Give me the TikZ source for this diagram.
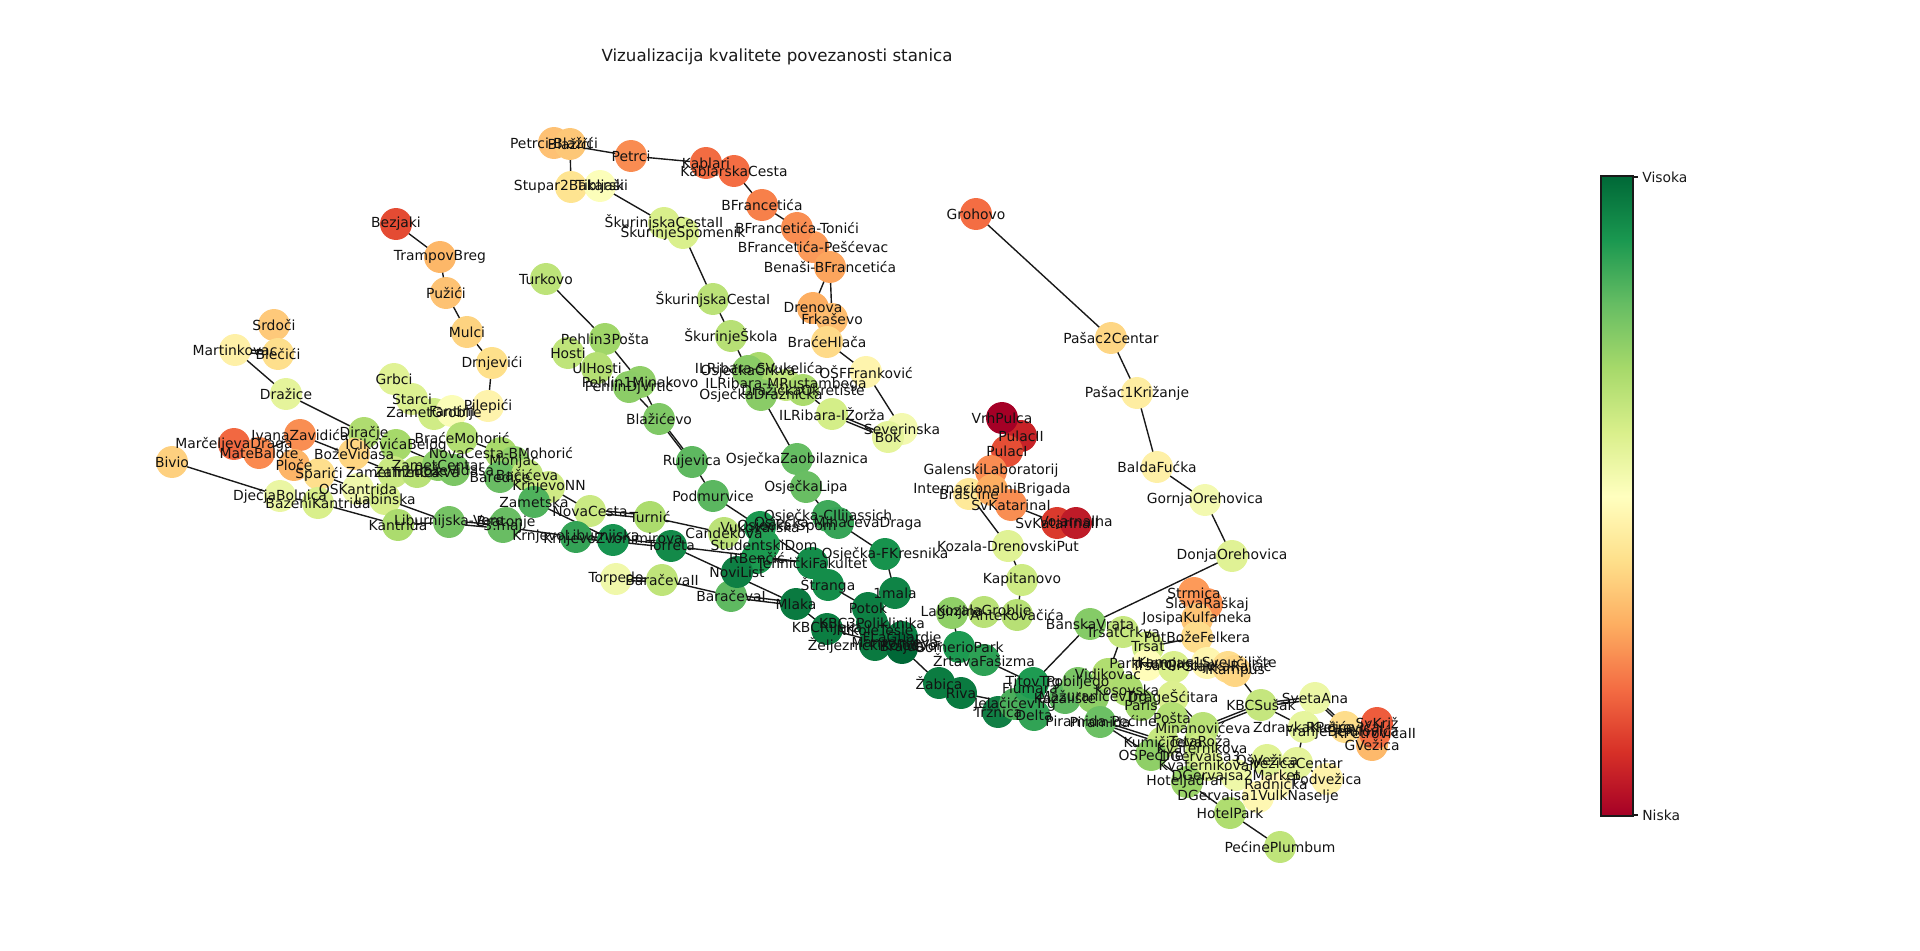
\documentclass[tikz,border=0pt]{standalone}
\usepackage{fontspec}
\setmainfont{DejaVu Sans}
\pgfdeclarelayer{edgelayer}
\pgfdeclarelayer{labellayer}
\pgfsetlayers{edgelayer,main,labellayer}
\tikzset{
  stop/.style={circle,minimum size=23pt,inner sep=0pt,draw=none},
  stoplabel/.style={inner sep=0pt,font=\fontsize{10}{12}\selectfont,text=black!93},
  edge/.style={draw=black!90,line width=1pt},
  ticklabel/.style={inner sep=0pt,anchor=west,font=\fontsize{10}{12}\selectfont,text=black!90},
  titletext/.style={inner sep=0pt,font=\fontsize{12}{14}\selectfont,text=black!90}
}
\newcommand{\stn}[5]{\definecolor{nc}{HTML}{#4}\node[stop,fill=nc] (#1) at (#2,#3) {};
 \begin{pgfonlayer}{labellayer}\node[stoplabel] (l#1) at (#2,#3) {#5};\end{pgfonlayer}}
\newcommand{\lab}[4]{\begin{pgfonlayer}{labellayer}\node[stoplabel] (#1) at (#2,#3) {#4};\end{pgfonlayer}}
\newcommand{\ed}[2]{\draw[edge] (#1.center) -- (#2.center);}
\newcommand{\edd}[2]{\draw[edge] ([yshift=1.1pt]#1.center) -- ([yshift=1.1pt]#2.center);\draw[edge] ([yshift=-1.1pt]#1.center) -- ([yshift=-1.1pt]#2.center);}
\newcommand{\cbseg}[4]{\definecolor{ca}{HTML}{#3}\definecolor{cb}{HTML}{#4}\shade[top color=ca,bottom color=cb,draw=none] (1601,#1) rectangle (1633,#2);}
\begin{document}
\begin{tikzpicture}[x=0.72pt,y=-0.72pt]
\useasboundingbox (0,0) rectangle (1920,951);
\node[titletext] (title) at (777,57) {Vizualizacija kvalitete povezanosti stanica};
% left
\stn{srdoci}{274}{325}{FEC97A}{Srdoči}
\stn{blecici}{278}{354}{FEDF8C}{Blečići}
\stn{martinkovac}{235}{350}{FEF0A7}{Martinkovac}
\stn{drazice}{286}{394}{E5F49B}{Dražice}
\stn{diracje}{364}{433}{AFDC70}{Diračje}
\stn{icikovica}{396}{445}{A6D96A}{ICikovićaBelog}
\stn{marceljeva}{234}{444}{F26841}{MarčeljevaDraga}
\stn{mate}{259}{453}{FA8A50}{MateBalote}
\stn{ivana}{300}{435}{F98E52}{IvanaZavidića}
\stn{bivio}{172}{462}{FED07F}{Bivio}
\stn{ploce}{294}{465}{FDB567}{Ploče}
\stn{bozev}{354}{454}{FED582}{BožeVidasa}
\stn{sparici}{319}{474}{FEDF8D}{Sparići}
\stn{djecja}{280}{496}{EAF6A3}{DječjaBolnica}
\stn{bazeni}{318}{503}{D9EF8B}{BazeniKantrida}
\stn{oskantrida}{358}{489}{EFF8AC}{OSKantrida}
\stn{labinska}{385}{499}{D7EF8B}{Labinska}
\stn{kantrida}{398}{525}{ACDC6E}{Kantrida}
\stn{liburnijska}{449}{522}{76C365}{Liburnijska-Vere}
\stn{bratonje}{506}{523}{6ABD64}{Bratonje}
\stn{svibnja}{503}{527}{69BD63}{3.maj}
\stn{grbci}{394}{379}{E0F295}{Grbci}
\stn{starci}{412}{399}{DDF191}{Starci}
\stn{zgroblje}{434}{414}{D0EC86}{ZametGroblje}
\stn{fantini}{452}{411}{FBFDB8}{Fantini}
\stn{pilepici}{488}{406}{FEF3AC}{Pilepići}
\stn{drnjevici}{492}{363}{FEE08B}{Drnjevići}
\stn{mulci}{467}{332}{FDD380}{Mulci}
\stn{puzici}{446}{293}{FDC273}{Pužići}
\stn{trampov}{440}{257}{FDB768}{TrampovBreg}
\stn{bezjaki}{396}{224}{E44B33}{Bezjaki}
\stn{ztrznica}{393}{472}{CBE983}{ZametTržnica}
\stn{zcrkva}{417}{472}{B9E177}{ZametCrkva}
\stn{braca}{462}{438}{B3DF72}{BraćeMohorić}
\stn{zcentar}{438}{465}{8ACC66}{ZametCentar}
\stn{bozeb}{454}{470}{7CC665}{BožeVidasa}
\stn{ncb}{501}{453}{A9DA6B}{NovaCesta-BMohorić}
\stn{monjac}{514}{462}{8FCF67}{Monjac}
\stn{baredice}{500}{477}{6ABD64}{Baredice}
\stn{bacic}{527}{475}{BFE47A}{Bačićeva}
\stn{krnjevonn}{549}{487}{CFEB85}{KrnjevoNN}
\stn{zametska}{534}{502}{4FB25C}{Zametska}
\stn{novacesta}{590}{511}{CAE983}{NovaCesta}
\stn{turnic}{650}{517}{ACDC6D}{Turnić}
\stn{krnlib}{576}{537}{34A356}{KrnjevoLiburnijska}
\stn{krnzvo}{613}{540}{179350}{KrnjevoZvonimirova}
\stn{torreta}{671}{546}{138A49}{Torreta}
\stn{torpedo}{616}{579}{F0F8AA}{Torpedo}
\stn{baracii}{662}{580}{BFE47A}{BaračevaII}
\stn{baraci}{731}{596}{5FB961}{BaračevaI}
% north
\stn{pblazici}{554}{143}{FEC174}{Petrci-Blažići}
\stn{blazici}{570}{144}{FDC777}{Blažići}
\stn{stupar}{571}{187}{FEE491}{Stupar2Bakarski}
\stn{tibljasi}{600}{186}{FCFEBA}{Tibljaši}
\stn{petrci}{631}{156}{F98C52}{Petrci}
\stn{kablari}{706}{163}{F26C42}{Kablari}
\stn{kablarska}{734}{171}{F46D43}{KablarskaCesta}
\stn{bfr}{762}{205}{F7804A}{BFrancetića}
\stn{bfpes}{813}{247}{FB9A59}{BFrancetića-Pešćevac}
\stn{bfton}{797}{228}{F98E52}{BFrancetića-Tonići}
\stn{benasi}{830}{267}{FCA55D}{Benaši-BFrancetića}
\stn{drenova}{813}{308}{FDAE61}{Drenova}
\stn{frkasevo}{832}{319}{FDBD6F}{Frkaševo}
\stn{hlaca}{827}{342}{FEDA88}{BraćeHlača}
\stn{osf}{866}{372}{FEF4AD}{OŠFFranković}
\stn{skii}{664}{223}{D9EF8B}{ŠkurinjskaCestaII}
\stn{skspom}{683}{233}{DAF08D}{ŠkurinjeSpomenik}
\stn{ski}{713}{299}{BBE278}{ŠkurinjskaCestaI}
\stn{skskola}{731}{336}{B7E075}{ŠkurinjeŠkola}
\stn{turkovo}{546}{279}{BDE379}{Turkovo}
\stn{hosti}{568}{353}{BFE47A}{Hosti}
\stn{pehlin3}{605}{339}{A0D669}{Pehlin3Pošta}
\stn{ulhosti}{597}{368}{B5DF73}{UlHosti}
\stn{pehlin1}{640}{382}{90CF68}{Pehlin1Minakovo}
\stn{pehlindj}{629}{387}{8CCD67}{PehlinDjVrtić}
\stn{ilsv}{759}{368}{A9DA6C}{ILRibara-SVukelića}
\stn{oscrkva}{748}{371}{8ACC66}{OsječkaCrkva}
\stn{ilmr}{786}{385}{C4E67E}{ILRibara-MRustambega}
\stn{okret}{803}{390}{ABDB6D}{DražičkaOkretište}
\stn{osdraz}{761}{395}{8ACC67}{OsječkaDražnička}
\stn{ilzor}{832}{414}{D4EE88}{ILRibara-IŽorža}
\stn{severinska}{902}{429}{F3F9B0}{Severinska}
\stn{bok}{888}{437}{E5F49B}{Bok}
\stn{oszao}{797}{459}{66BD63}{OsječkaZaobilaznica}
\stn{oslipa}{806}{487}{69BE63}{OsječkaLipa}
\stn{blazicevo}{659}{419}{7FC866}{Blažićevo}
\stn{rujevica}{692}{462}{5EB860}{Rujevica}
\stn{podmurvice}{713}{496}{5BB760}{Podmurvice}
\stn{oscil}{828}{516}{3FA95A}{Osječka-CIlijassich}
\stn{osmih}{838}{523}{36A457}{Osječka-MihačevaDraga}
\stn{oskres}{885}{554}{17934D}{Osječka-FKresnika}
\stn{candek}{724}{533}{BCE278}{Candekova}
\stn{osspom}{760}{527}{1A9850}{Vukovarska}
\lab{lospom}{787}{526}{Osječka-Spom}
\stn{studdom}{764}{545}{239F54}{StudentskiDom}
\stn{rbencic}{757}{558}{1B9A50}{RBenčić}
\stn{tehfak}{812}{563}{148D4A}{TehničkiFakultet}
\stn{noviist}{737}{572}{0E8044}{NoviList}
\stn{stranga}{828}{585}{148D4A}{Štranga}
\stn{mala}{895}{593}{0F8446}{1mala}
\stn{mlaka}{796}{604}{0A7A40}{Mlaka}
\stn{potok}{868}{608}{0D7F43}{Potok}
\stn{poliklin}{872}{623}{0E8144}{KBC3Poliklinika}
\stn{kbcr}{827}{629}{0C7E42}{KBCRijeka}
\stn{nikole}{875}{630}{0E8044}{NikoleTesle}
\stn{zeljez}{875}{645}{0A7A40}{ŽeljezničkiKolodvor}
\lab{lmanz}{895}{644}{Manzonijeva}
\stn{flag}{902}{637}{0A7F43}{FLaGuardie}
\stn{brajda}{902}{648}{006837}{Brajda}
\stn{zabica}{939}{683}{0B7C41}{Žabica}
\stn{riva}{961}{693}{0A7A40}{Riva}
\stn{laginjina}{952}{613}{8FCF67}{Laginjina}
\stn{kozgrob}{984}{612}{B9E177}{KozalaGroblje}
\stn{ante}{1017}{615}{B7E075}{AnteKovačića}
\stn{kapitanovo}{1022}{580}{CDEB84}{Kapitanovo}
\stn{kozdren}{1008}{546}{E0F295}{Kozala-DrenovskiPut}
\stn{gomerio}{959}{647}{1D9A51}{GomerioPark}
\stn{zrtava}{984}{660}{2DA155}{ŽrtavaFašizma}
\stn{trznica}{998}{712}{117F45}{Tržnica}
\stn{jelacic}{1015}{704}{4BAF5B}{JelačićevTrg}
\stn{delta}{1034}{715}{31A355}{Delta}
\stn{fiumara}{1030}{688}{2DA155}{Fiumara}
\stn{titov}{1033}{683}{1E9B52}{TitovTrg}
\stn{kazaliste}{1065}{698}{5DB760}{Kazalište}
\stn{pobijego}{1078}{683}{7AC565}{Pobiljego}
\stn{mazur}{1093}{697}{8FCF67}{MažuranićevTrg}
\stn{vidikovac}{1108}{674}{B0DD70}{Vidikovac}
\stn{kosovska}{1127}{690}{ACDC6E}{Kosovska}
\stn{paris}{1141}{705}{A0D669}{Paris}
\stn{piramida}{1100}{722}{6CC064}{Piramida}
\lab{lpec}{1101}{721}{Piramida-Pećine}
\stn{banska}{1090}{624}{85CB67}{BanskaVrata}
\stn{trsatc}{1123}{632}{C6E77F}{TrsatCrkva}
\stn{trsat}{1148}{647}{D3ED87}{Trsat}
\stn{parkh}{1147}{665}{FFFDBA}{ParkHeroja}
\stn{trsatg}{1174}{667}{DAF08D}{TrsatGroblje}
\stn{strmica}{1194}{593}{FD9A59}{Strmica}
\stn{slava}{1207}{604}{FB9253}{SlavaRaškaj}
\stn{josipa}{1197}{619}{FEC576}{JosipaKulfaneka}
\stn{felkera}{1197}{637}{FEDC8B}{PutBožeFelkera}
\stn{kampusi}{1207}{663}{FEF6AF}{Kampus1Sveučilište}
\stn{rajcic}{1228}{667}{FEDD8D}{SlavkaRajčić}
\stn{kampus}{1235}{671}{FED684}{IKampus}
\stn{drage}{1173}{697}{DCF08F}{DrageŠćitara}
\stn{posta}{1172}{718}{B4DF73}{Pošta}
\stn{kbcs}{1261}{705}{C5E67E}{KBCSušak}
\stn{minan}{1203}{728}{B9E177}{Minanovićeva}
\stn{kumicic}{1163}{742}{C6E77F}{Kumičićeva}
\stn{teta}{1200}{741}{BDE379}{TetaRoža}
\stn{ospec}{1151}{755}{8FCF67}{OSPećine}
\stn{kvat}{1202}{748}{CDEB84}{Kvaternikova}
\stn{dg3}{1200}{756}{C6E77F}{DGervaisa3}
\stn{kvatii}{1208}{765}{DFF294}{KvaternikovaII}
\stn{hjadran}{1187}{782}{9BD469}{HotelJadran}
\stn{market}{1236}{775}{EEF8A8}{DGervaisa2Market}
\stn{radnicka}{1276}{784}{FEF7B2}{Radnička}
\stn{vulk}{1258}{797}{FEF7B2}{DGervaisa1VulkNaselje}
\stn{osvez}{1267}{760}{DFF294}{OšVežica}
\stn{vezc}{1297}{763}{E5F49B}{VežicaCentar}
\stn{podvez}{1327}{779}{FEF2AA}{Podvežica}
\stn{hpark}{1230}{813}{AFDD70}{HotelPark}
\stn{plumbum}{1280}{847}{BFE47A}{PećinePlumbum}
\stn{svana}{1315}{698}{ECF7A6}{SvetaAna}
\stn{franje}{1304}{727}{E6F59D}{ZdravkaKučića}
\lab{lfranje}{1342}{732}{FranjeBelulovića}
\stn{gvezica}{1372}{745}{FDB96B}{GVežica}
\stn{rpi}{1345}{727}{FEDD8B}{RPetrovićaI}
\stn{rpii}{1375}{733}{F47044}{RPetrovićaII}
\stn{svkriz}{1377}{723}{EE5C3C}{SvKriž}
% north east
\stn{pulacii}{1021}{436}{C82227}{PulacII}
\stn{vrh}{1002}{418}{A50026}{VrhPulca}
\stn{pulaci}{1007}{451}{E54E35}{PulacI}
\stn{galenski}{991}{471}{FA8C52}{GalenskiLaboratorij}
\stn{brascine}{969}{494}{FEE999}{Brašćine}
\stn{intern}{992}{490}{FDAE61}{InternacionalniBrigada}
\stn{svki}{1011}{505}{F98E52}{SvKatarinaI}
\stn{svkii}{1057}{523}{DA3A2D}{SvKatarinaII}
\stn{vojarna}{1076}{523}{BE1B28}{Vojarnalha}
\stn{grohovo}{976}{214}{F46D43}{Grohovo}
\stn{pasac2}{1111}{338}{FED684}{Pašac2Centar}
\stn{pasac1}{1137}{393}{FEEDA1}{Pašac1Križanje}
\stn{balda}{1157}{467}{FEF0A7}{BaldaFućka}
\stn{gornja}{1205}{500}{F3F9B0}{GornjaOrehovica}
\stn{donja}{1232}{556}{E0F295}{DonjaOrehovica}
% edges
\begin{pgfonlayer}{edgelayer}
\ed{bezjaki}{trampov}\ed{trampov}{puzici}\ed{puzici}{mulci}\ed{mulci}{drnjevici}\ed{drnjevici}{pilepici}
\ed{srdoci}{blecici}\edd{martinkovac}{blecici}\ed{martinkovac}{drazice}\ed{drazice}{diracje}\ed{diracje}{icikovica}
\ed{ivana}{ztrznica}\ed{icikovica}{bozeb}\ed{braca}{ncb}\ed{mate}{ivana}\ed{ploce}{sparici}\ed{sparici}{oskantrida}\ed{oskantrida}{labinska}\ed{labinska}{liburnijska}
\ed{bivio}{djecja}\ed{djecja}{bazeni}\ed{bazeni}{kantrida}\ed{kantrida}{liburnijska}\edd{liburnijska}{svibnja}\ed{svibnja}{krnlib}\edd{krnlib}{krnzvo}\edd{krnzvo}{torreta}\ed{zametska}{krnzvo}\ed{krnjevonn}{novacesta}\edd{novacesta}{turnic}\ed{turnic}{candek}
\ed{grbci}{starci}\ed{starci}{zgroblje}\ed{zgroblje}{fantini}\ed{fantini}{pilepici}
\ed{pblazici}{petrci}\ed{petrci}{kablari}\ed{kablari}{kablarska}\ed{kablarska}{bfr}\ed{bfr}{bfton}\ed{bfton}{bfpes}\ed{bfpes}{benasi}\ed{benasi}{drenova}\ed{benasi}{frkasevo}\ed{frkasevo}{hlaca}\ed{hlaca}{osf}\ed{osf}{severinska}
\ed{blazici}{stupar}\ed{tibljasi}{skii}\ed{skii}{skspom}\ed{skspom}{ski}\ed{ski}{skskola}\ed{skskola}{oscrkva}\ed{osdraz}{oszao}\ed{oszao}{oslipa}\ed{oslipa}{oscil}\ed{osmih}{oskres}\ed{oskres}{mala}\ed{mala}{potok}
\ed{turkovo}{pehlin3}\ed{pehlin3}{pehlin1}\ed{pehlindj}{blazicevo}\ed{pehlin1}{blazicevo}\edd{blazicevo}{rujevica}\ed{rujevica}{podmurvice}\ed{podmurvice}{osspom}\ed{osspom}{tehfak}
\ed{okret}{ilzor}\edd{ilzor}{bok}
\ed{torreta}{mlaka}\ed{torreta}{tehfak}\ed{rbencic}{tehfak}\edd{torpedo}{baracii}\ed{baracii}{baraci}\edd{baraci}{mlaka}\ed{mlaka}{kbcr}\ed{stranga}{potok}\ed{kbcr}{brajda}\ed{brajda}{zabica}\ed{zabica}{riva}\ed{riva}{jelacic}
\ed{laginjina}{gomerio}\ed{zrtava}{titov}\ed{titov}{banska}\ed{banska}{donja}\ed{donja}{gornja}\ed{gornja}{balda}\ed{balda}{pasac1}\ed{pasac1}{pasac2}\ed{pasac2}{grohovo}\ed{kapitanovo}{kozdren}\ed{kapitanovo}{ante}\ed{kozdren}{brascine}
\ed{svki}{svkii}\ed{trsat}{felkera}\ed{trsatc}{vidikovac}\ed{trsatg}{drage}\ed{drage}{minan}\ed{kampus}{kbcs}\ed{posta}{drage}
\edd{kbcs}{minan}\ed{kbcs}{franje}\edd{kbcs}{svana}\edd{svana}{rpi}\ed{franje}{vezc}\ed{podvez}{vezc}
\ed{ospec}{hjadran}\ed{hjadran}{hpark}\ed{hpark}{plumbum}
\edd{mazur}{piramida}\edd{piramida}{kumicic}\ed{piramida}{ospec}
\end{pgfonlayer}
% colour bar
\cbseg{176}{240}{006837}{1A9850}
\cbseg{240}{304}{1A9850}{66BD63}
\cbseg{304}{368}{66BD63}{A6D96A}
\cbseg{368}{432}{A6D96A}{D9EF8B}
\cbseg{432}{496}{D9EF8B}{FFFFBF}
\cbseg{496}{560}{FFFFBF}{FEE08B}
\cbseg{560}{624}{FEE08B}{FDAE61}
\cbseg{624}{688}{FDAE61}{F46D43}
\cbseg{688}{752}{F46D43}{D73027}
\cbseg{752}{816}{D73027}{A50026}
\draw[edge,line width=0.8pt] (1601,176) rectangle (1633,816);
\coordinate (tv) at (1633,177);\coordinate (tn) at (1633,815);
\draw[edge,line width=0.8pt] (tv) -- ++(5,0);\draw[edge,line width=0.8pt] (tn) -- ++(5,0);
\node[ticklabel] (visoka) at (1642,177) {Visoka};
\node[ticklabel] (niska) at (1642,815) {Niska};
\end{tikzpicture}
\end{document}
